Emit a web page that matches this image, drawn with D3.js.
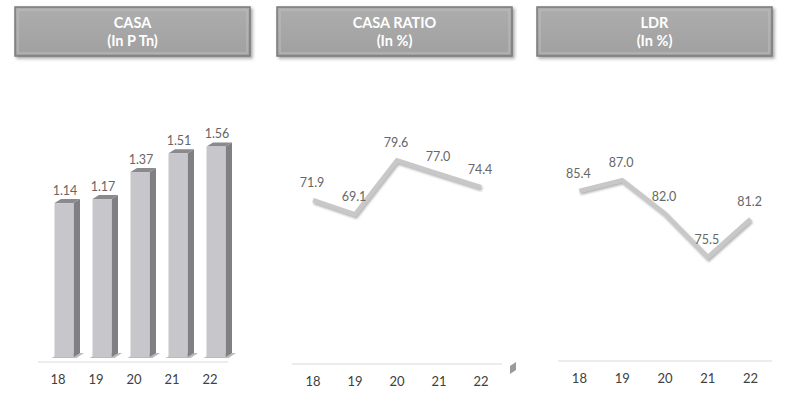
<!DOCTYPE html>
<html>
<head>
<meta charset="utf-8">
<script src="https://cdn.jsdelivr.net/npm/d3@7"></script>
<style>
  body { margin: 0; background: #fff; }
  svg { display: block; font-family: Lato, "Open Sans", sans-serif; }
</style>
</head>
<body>
<svg id="chart" width="785" height="398"></svg>
<script>
var years = ["18", "19", "20", "21", "22"];
var casa = [1.14, 1.17, 1.37, 1.51, 1.56];
var casaRatio = [71.9, 69.1, 79.6, 77.0, 74.4];
var ldr = [85.4, 87.0, 82.0, 75.5, 81.2];
var titles = [["CASA", "(In P Tn)"], ["CASA RATIO", "(In %)"], ["LDR", "(In %)"]];

var svg = d3.select("#chart");
var defs = svg.append("defs");

var hs = defs.append("filter").attr("id", "hshadow")
  .attr("x", "-10%").attr("y", "-20%").attr("width", "120%").attr("height", "150%");
hs.append("feDropShadow").attr("dx", 2).attr("dy", 2).attr("stdDeviation", 1.5)
  .attr("flood-color", "#555").attr("flood-opacity", 0.5);

var ls = defs.append("filter").attr("id", "lshadow")
  .attr("x", "-10%").attr("y", "-20%").attr("width", "120%").attr("height", "150%");
ls.append("feDropShadow").attr("dx", 1).attr("dy", 2).attr("stdDeviation", 1.2)
  .attr("flood-color", "#777").attr("flood-opacity", 0.55);

var hg = defs.append("linearGradient").attr("id", "hgrad")
  .attr("x1", 0).attr("y1", 0).attr("x2", 0).attr("y2", 1);
hg.append("stop").attr("offset", "0%").attr("stop-color", "#adadad");
hg.append("stop").attr("offset", "100%").attr("stop-color", "#a0a0a0");

// header boxes
var boxes = [15, 277, 537];
boxes.forEach(function(bx, i) {
  var g = svg.append("g");
  g.append("rect")
    .attr("x", bx).attr("y", 7).attr("width", 235).attr("height", 49)
    .attr("fill", "url(#hgrad)").attr("stroke", "#7a7a7a").attr("stroke-width", 1.5)
    .attr("filter", "url(#hshadow)");
  g.append("rect")
    .attr("x", bx + 3).attr("y", 10).attr("width", 229).attr("height", 43)
    .attr("fill", "none").attr("stroke", "#bdbdbd").attr("stroke-width", 1);
  g.append("text").attr("x", bx + 117.5).attr("y", 28)
    .attr("text-anchor", "middle").attr("fill", "#fff")
    .attr("font-weight", "bold").attr("font-size", 14.5)
    .text(titles[i][0]);
  g.append("text").attr("x", bx + 117.5).attr("y", 46)
    .attr("text-anchor", "middle").attr("fill", "#fff")
    .attr("font-weight", "bold").attr("font-size", 14.5)
    .text(titles[i][1]);
});

// ---- chart 1: 3D bars
var x1 = d3.scaleBand().domain(years).range([38, 228]);
var y1 = d3.scaleLinear().domain([0, 2]).range([357, 87]);
var bw = 19, dx = 6.5, dy = 4;

var c1 = svg.append("g");
c1.append("line").attr("x1", 38).attr("x2", 228).attr("y1", 362).attr("y2", 362)
  .attr("stroke", "#d9d9d9").attr("stroke-width", 1);

var bars = c1.selectAll(".bar").data(casa).enter().append("g").attr("class", "bar");
bars.each(function(d, i) {
  var g = d3.select(this);
  var x0 = x1(years[i]) + x1.bandwidth() / 2 - 2.5;
  var yt = y1(d), yb = y1(0);
  // floor shadow
  g.append("polygon")
    .attr("points", [[x0 - 3, yb + 1], [x0 + bw + 3, yb + 1], [x0 + bw + dx + 4, yb - dy], [x0 + dx, yb - dy]].join(" "))
    .attr("fill", "#8c8c8c").attr("opacity", 0.6);
  g.append("polygon")
    .attr("points", [[x0 + bw, yt], [x0 + bw + dx, yt - dy], [x0 + bw + dx, yb - dy], [x0 + bw, yb]].join(" "))
    .attr("fill", "#7f7f84");
  g.append("polygon")
    .attr("points", [[x0, yt], [x0 + dx, yt - dy], [x0 + bw + dx, yt - dy], [x0 + bw, yt]].join(" "))
    .attr("fill", "#8a8a8e");
  g.append("rect").attr("x", x0).attr("y", yt).attr("width", bw).attr("height", yb - yt)
    .attr("fill", "#c6c6cb");
  g.append("text").attr("x", x0 + bw / 2 + 1).attr("y", yt - 8)
    .attr("text-anchor", "middle").attr("fill", "#666").attr("font-size", 12.5)
    .text(d.toFixed(2));
});

c1.selectAll(".tick").data(years).enter().append("text")
  .attr("x", function(d) { return x1(d) + x1.bandwidth() / 2 + 1; })
  .attr("y", 384).attr("text-anchor", "middle")
  .attr("fill", "#404040").attr("font-size", 13).text(function(d) { return d; });

// ---- line charts
function lineChart(values, x0, x1r, axisY, yDomain, yTop, tickY) {
  var x = d3.scaleBand().domain(years).range([x0, x1r]);
  var y = d3.scaleLinear().domain(yDomain).range([axisY, yTop]);
  var cx = function(i) { return x(years[i]) + x.bandwidth() / 2; };
  var g = svg.append("g");
  g.append("line").attr("x1", x0).attr("x2", x1r).attr("y1", axisY).attr("y2", axisY)
    .attr("stroke", "#d9d9d9").attr("stroke-width", 1);
  var line = d3.line().x(function(d, i) { return cx(i); }).y(function(d) { return y(d); });
  g.append("path").datum(values).attr("d", line)
    .attr("fill", "none").attr("stroke", "#c8c8c8").attr("stroke-width", 4.5)
    .attr("stroke-linejoin", "miter").attr("filter", "url(#lshadow)");
  g.selectAll(".lbl").data(values).enter().append("text")
    .attr("x", function(d, i) { return cx(i) - 1; })
    .attr("y", function(d) { return y(d) - 13; })
    .attr("text-anchor", "middle").attr("fill", "#666").attr("font-size", 12.5)
    .text(function(d) { return d.toFixed(1); });
  g.selectAll(".tick").data(years).enter().append("text")
    .attr("x", function(d) { return x(d) + x.bandwidth() / 2; })
    .attr("y", tickY).attr("text-anchor", "middle")
    .attr("fill", "#404040").attr("font-size", 13).text(function(d) { return d; });
  return g;
}

var c2 = lineChart(casaRatio, 292, 502, 364, [40, 100], 55.6, 386);
c2.append("polygon").attr("points", "510,366 516,362 516,370 510,374").attr("fill", "#9a9a9a");
lineChart(ldr, 558, 772, 361, [60, 100], 93, 383);
</script>
</body>
</html>
